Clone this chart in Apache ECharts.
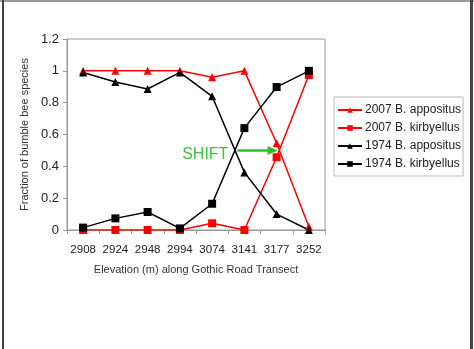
<!DOCTYPE html>
<html><head><meta charset="utf-8">
<script src="https://cdn.jsdelivr.net/npm/echarts@6/dist/echarts.min.js"></script>
<style>
html,body{margin:0;padding:0;background:#fff;}
#frame{position:absolute;left:0;top:0;width:474px;height:349px;box-sizing:border-box;border-top:2px solid #999;}
#lb{position:absolute;left:2px;top:0;width:2px;height:349px;background:#444;}
#rb{position:absolute;left:470px;top:0;width:3px;height:349px;background:#444;}
#c{position:absolute;left:0;top:0;width:474px;height:349px;}
</style></head>
<body>
<div id="c"></div>
<div id="frame"></div><div id="lb"></div><div id="rb"></div>
<script>
const categories = ['2908','2924','2948','2994','3074','3141','3177','3252'];
const app2007 = [1, 1, 1, 1, 0.96, 1, 0.545, 0.02];
const kir2007 = [0, 0, 0, 0, 0.042, 0, 0.457, 0.974];
const app1974 = [0.99, 0.93, 0.886, 0.99, 0.84, 0.362, 0.10, 0.0];
const kir1974 = [0.015, 0.073, 0.113, 0.01, 0.165, 0.64, 0.898, 1.0];
const yTicks = [0, 0.2, 0.4, 0.6, 0.8, 1, 1.2];

const chart = echarts.init(document.getElementById('c'));
const font = 'Liberation Sans, Arial, sans-serif';
function s(name, data, color, sym, size){
  return {name, type:'line', data, symbol:sym, symbolSize:size, color,
    lineStyle:{color, width:1.5}, itemStyle:{color}, animation:false};
}
chart.setOption({
  animation:false,
  textStyle:{fontFamily:font},
  grid:{left:67, right:149, top:39, bottom:119, show:true, borderColor:'#999', borderWidth:1, backgroundColor:'transparent'},
  xAxis:{type:'category', data:categories, boundaryGap:true,
    axisLine:{lineStyle:{color:'#999'}}, axisTick:{show:true, length:4, lineStyle:{color:'#999'}},
    axisLabel:{color:'#222', fontSize:11.5, margin:14, interval:0, fontFamily:font},
    name:'Elevation (m) along Gothic Road Transect', nameLocation:'middle', nameGap:34,
    nameTextStyle:{color:'#333', fontSize:11, fontFamily:font}},
  yAxis:{type:'value', min:0, max:1.2, interval:0.2,
    axisLine:{show:true, lineStyle:{color:'#999'}}, axisTick:{show:true, length:4, lineStyle:{color:'#999'}},
    splitLine:{show:false},
    axisLabel:{color:'#222', fontSize:13, margin:8, fontFamily:font, formatter:v=>String(Math.round(v*10)/10)},
    name:'Fraction of bumble bee species', nameLocation:'middle', nameGap:34, nameRotate:90,
    nameTextStyle:{color:'#333', fontSize:11, fontFamily:font}},
  legend:{orient:'vertical', left:334, top:97, itemGap:6, itemWidth:24, itemHeight:7,
    padding:[7,2,6,3], borderColor:'#bbb', borderWidth:1,
    textStyle:{fontSize:12, color:'#222', fontFamily:font, padding:[0,0,0,-2]},
    data:['2007 B. appositus','2007 B. kirbyellus','1974 B. appositus','1974 B. kirbyellus']},
  series:[
    s('2007 B. appositus', app2007, '#ff0000', 'triangle', 8),
    s('2007 B. kirbyellus', kir2007, '#ff0000', 'rect', 8),
    s('1974 B. appositus', app1974, '#000000', 'triangle', 8),
    s('1974 B. kirbyellus', kir1974, '#000000', 'rect', 8)
  ]
});
// SHIFT annotation
const p5 = chart.convertToPixel({xAxisIndex:0,yAxisIndex:0},[5,0.5]);
const p6 = chart.convertToPixel({xAxisIndex:0,yAxisIndex:0},[6,0.5]);
const x0 = p5[0] - 7, x1 = p6[0] + 1, y = p5[1];
chart.setOption({graphic:[
  {type:'line', shape:{x1:x0, y1:y, x2:x1-8, y2:y}, style:{stroke:'#33bb33', lineWidth:2.5}, z:100},
  {type:'polygon', shape:{points:[[x1-10,y-4.5],[x1,y],[x1-10,y+4.5]]}, style:{fill:'#33bb33'}, z:100},
  {type:'text', x:x0-9, y:y+4, style:{text:'SHIFT', fill:'#44c044', font:'16px '+font, align:'right', verticalAlign:'middle'}, z:100}
]});
</script>
</body></html>
